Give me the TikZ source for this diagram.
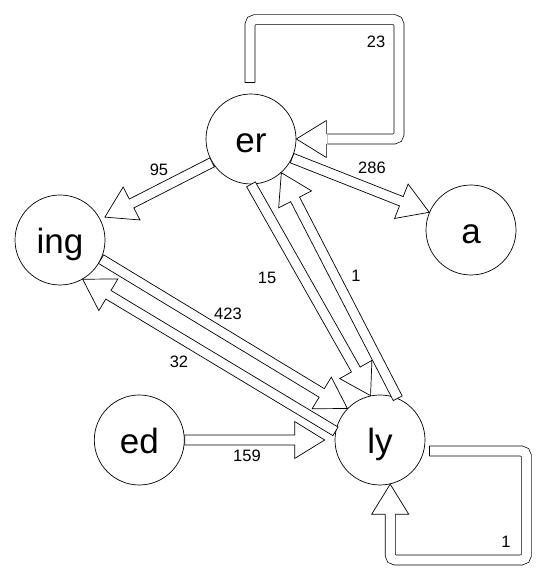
\documentclass[tikz,border=0pt]{standalone}
\usepackage{fontspec}
\setmainfont{Liberation Sans}
\usepackage{tikz}
\usetikzlibrary{automata, positioning, calc}
\tikzset{every state/.style={minimum size=90pt, inner sep=0pt, line width=0.7pt, font=\fontsize{35}{40}\selectfont, text height=27pt, text depth=0pt}}
\tikzset{block/.style={draw, fill=white, line width=0.7pt}}
\tikzset{loopshaft/.style={draw, line width=0.7pt, double=white, double distance=9.3pt, rounded corners=5pt}}
\tikzset{weight/.style={font=\fontsize{16.5}{18}\selectfont, inner sep=0pt}}
\newcommand{\blockarrow}[2]{\draw[block] let \p1=(#1), \p2=(#2), \n1={atan2(\y2-\y1,\x2-\x1)}, \n2={veclen(\x2-\x1,\y2-\y1)} in [shift={(\p1)}, rotate=\n1] (0pt,5pt) -- (\n2-30pt,5pt) -- (\n2-30pt,18.5pt) -- (\n2,0pt) -- (\n2-30pt,-18.5pt) -- (\n2-30pt,-5pt) -- (0pt,-5pt) -- cycle;}
\newcommand{\openhead}[2]{\draw[block, shift={(#1)}, rotate=#2] (-30pt,5pt) -- (-30pt,18.5pt) -- (0pt,0pt) -- (-30pt,-18.5pt) -- (-30pt,-5pt);}

\begin{document}
\begin{tikzpicture}[x=1pt, y=1pt]
\useasboundingbox (0,0) rectangle (546,581);
\node[state] (er) at (251,442) {er};
\node[state] (ing) at (60,341) {ing};
\node[state] (a) at (471,351) {a};
\node[state] (ly) at (380,141) {ly};
\node[state, left=150pt of ly] (ed) {ed};
% self loops
\draw[loopshaft] ($(er.north)+(-1,11)$) |- ++(149,63) |- ($(er.east)+(31,0)$);
\draw[line width=0.7pt] ($(er.north)+(-6,11)$) -- ++(10,0);
\openhead{er.east}{180}
\draw[loopshaft] ($(ly.east)+(4,-11)$) -| ++(97,-109) -| ($(ly.-77)+(0,-30)$);
\draw[line width=0.7pt] ($(ly.east)+(4,-16)$) -- ++(0,10);
\openhead{ly.-77}{90}
% transitions
\blockarrow{er.211}{$(ing.27)+(27:5)$}
\blockarrow{er.-25}{a.157}
\blockarrow{er.-90}{ly.102}
\blockarrow{ly.67}{er.-48}
\blockarrow{ing.-25}{ly.136}
\blockarrow{ly.169}{ing.-60}
\blockarrow{ed.east}{$(ly.west)+(-10,0)$}
% counts
\node[weight] (w23) at (376,539) {23};
\node[weight] (w95) at (159,411) {95};
\node[weight] (w286) at (372,413) {286};
\node[weight] (w15) at (267,303) {15};
\node[weight] (w1er) at (356,305) {1};
\node[weight] (w423) at (228,267) {423};
\node[weight] (w32) at (179,219) {32};
\node[weight] (w159) at (247,125) {159};
\node[weight] (w1ly) at (506,39) {1};
\end{tikzpicture}
\end{document}
